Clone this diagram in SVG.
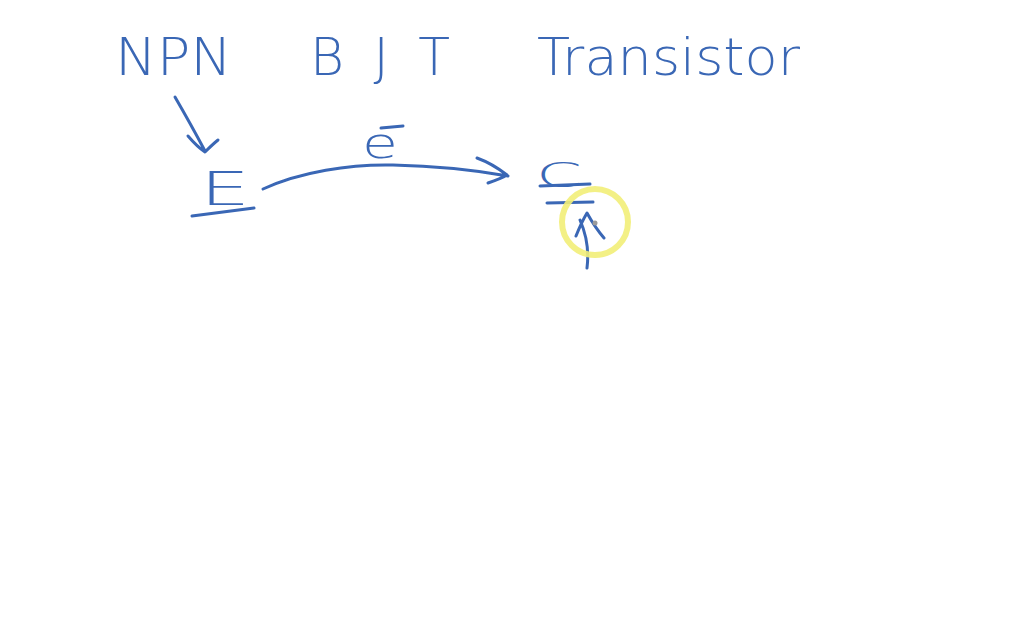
<svg xmlns="http://www.w3.org/2000/svg" width="1024" height="626" viewBox="0 0 1024 626">
<style>
.t{font-family:"DejaVu Sans","Liberation Sans",sans-serif;font-weight:200;fill:#3a67b5}
.s{fill:none;stroke:#3a67b5;stroke-width:3;stroke-linecap:round;stroke-linejoin:round}
</style>
<rect width="1024" height="626" fill="#ffffff"/>
<g id="title">
<text class="t" x="115" y="75" font-size="52" textLength="117" lengthAdjust="spacingAndGlyphs">NPN</text>
<text class="t" x="310" y="75" font-size="52" textLength="140" lengthAdjust="spacing">BJT</text>
<text class="t" x="537" y="75" font-size="52" textLength="263" lengthAdjust="spacingAndGlyphs">Transistor</text>
</g>
<g id="emitter">
<text class="t" x="200" y="205" font-size="46" textLength="50" lengthAdjust="spacingAndGlyphs">E</text>
<path class="s" d="M192,216 L254,208"/>
</g>
<g id="electron">
<text class="t" x="362" y="158" font-size="42" textLength="36" lengthAdjust="spacingAndGlyphs">e</text>
<path class="s" d="M381,128 L403,126"/>
</g>
<g id="collector">
<text class="t" x="536" y="187" font-size="34" textLength="46" lengthAdjust="spacingAndGlyphs">C</text>
<path class="s" d="M540,186 L590,184"/>
<path class="s" d="M547,203 L593,202"/>
<path class="s" d="M587,268 C589,252 587,236 580,220 M576,236 C580,226 584,218 587,213 C592,222 598,231 604,238"/>
</g>
<g id="connectors">
<path class="s" d="M175,97 C186,116 196,134 205,151 M188,136 C194,143 199,148 205,152 C209,148 213,144 218,140"/>
<path class="s" d="M263,189 C300,172 350,164 393,165 C440,166 480,171 508,176 M477,158 C488,162 498,168 507,175 C502,178 494,181 488,183"/>
</g>
<g id="cursor">
<circle cx="595" cy="222" r="33" fill="none" stroke="#f2ee78" stroke-width="6" opacity="0.9"/>
<circle cx="595" cy="223" r="2.5" fill="#9a9a9a"/>
</g>
</svg>
